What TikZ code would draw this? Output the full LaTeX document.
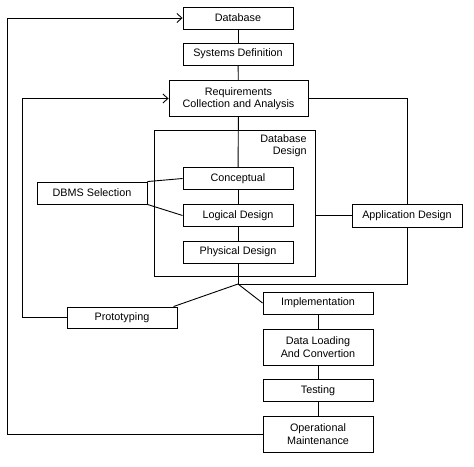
\documentclass[tikz,border=0pt]{standalone}
\usepackage{fontspec}
\setmainfont{Liberation Sans}
\usepackage{tikz}
\usetikzlibrary{shapes,arrows,arrows.meta}
\usetikzlibrary{positioning}
\usetikzlibrary{calc}

\begin{document}
\begin{tikzpicture}[>={Straight Barb[length=5pt,width=9pt]}, x=1pt, y=-1pt, line width=0.9pt,
	box/.style={draw,rectangle,minimum height=22pt,minimum width=110pt,
		inner sep=1pt,align=center,font=\fontsize{10.8}{12.5}\selectfont},
	tallbox/.style={box,minimum height=36pt}]

	\useasboundingbox (0,0) rectangle (474,466);

	% Life cycle, main column
	% -----------------------
	\node[box] (DB) at (238,18) {Database};
	\node[box] (SysDef) at (238,54) {Systems Definition};
	\node[tallbox, minimum width=139pt] (Req) at (238.5,98.5) {Requirements\\Collection and Analysis};

	% Database Design frame
	% ---------------------
	\node[draw,rectangle, minimum height=146pt,minimum width=161pt] (DBDesign) at (234.5,203) {};
	\node[anchor=north east,align=right,inner sep=0pt,font=\fontsize{10.8}{12.5}\selectfont]
		(DBDesignLbl) at (307,134) {Database\\Design};

	\node[box] (Concept) at (238,178.5) {Conceptual};
	\node[box] (Logical) at (238,215.5) {Logical Design};
	\node[box] (Physical) at (238,252) {Physical Design};

	% side boxes
	\node[box] (DBMS) at (92,193) {DBMS Selection};
	\node[box, minimum height=23pt] (AppDesign) at (407,215.5) {Application Design};
	\node[box, minimum height=21pt] (Proto) at (122,317.5) {Prototyping};

	% lower column
	% ------------
	\node[box] (Impl) at (318,303) {Implementation};
	\node[tallbox] (DataLoad) at (318,347) {Data Loading\\And Convertion};
	\node[box] (Testing) at (318,390.5) {Testing};
	\node[tallbox] (OpMaint) at (318,434) {Operational\\Maintenance};

	\coordinate (split) at (238,284);

	% connections
	\draw (DB) -- (SysDef);
	\draw (SysDef) -- (Req);
	\draw (Req) -- (Concept);
	\draw (Concept) -- (Logical);
	\draw (Logical) -- (Physical);
	\draw (Physical) -- (split);

	\draw (DBMS.north east) -- (Concept.west);
	\draw (DBMS.south east) -- (Logical.west);

	\draw (Req.east) -| (AppDesign.north);
	\draw (AppDesign.west) -- (AppDesign.west -| DBDesign.east);
	\draw (AppDesign.south) |- (split);

	\draw (split) -- (Proto.12);
	\draw (split) -- (Impl.west);

	\draw (Impl) -- (DataLoad);
	\draw (DataLoad) -- (Testing);
	\draw (Testing) -- (OpMaint);

	% feedback loops
	\draw[->] (Proto.west) -- ++(-44,0) |- (Req.west);
	\draw[->] (OpMaint.west) -- ++(-255,0) |- (DB.west);

\end{tikzpicture}
\end{document}
